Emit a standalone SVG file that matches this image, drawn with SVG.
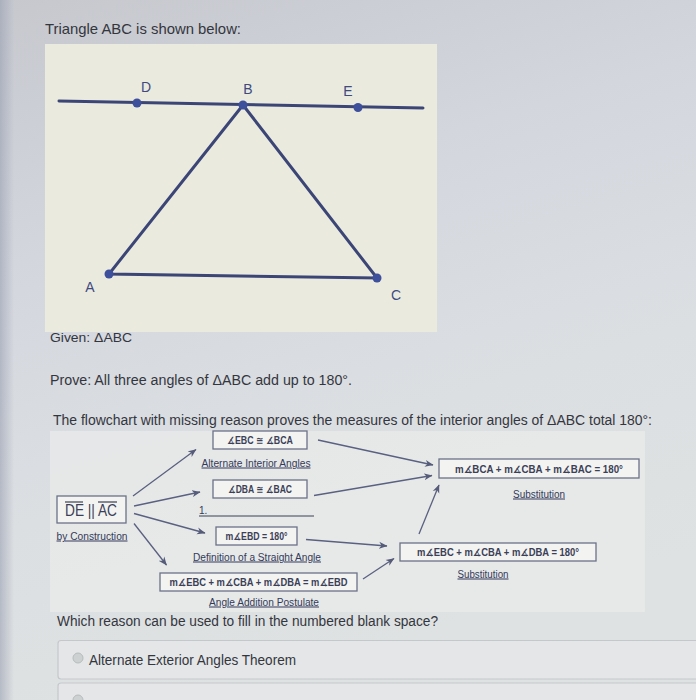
<svg xmlns="http://www.w3.org/2000/svg" width="696" height="700" viewBox="0 0 696 700">
<defs>
<linearGradient id="bg" x1="0" y1="0" x2="0.3" y2="1">
<stop offset="0" stop-color="#c6c8ce"/>
<stop offset="0.35" stop-color="#d3d6dd"/>
<stop offset="0.7" stop-color="#dcdfe2"/>
<stop offset="1" stop-color="#dfe2e2"/>
</linearGradient>
<linearGradient id="edge" x1="0" y1="0" x2="1" y2="0">
<stop offset="0" stop-color="#9aa1b3" stop-opacity="0.6"/>
<stop offset="1" stop-color="#9aa1b3" stop-opacity="0"/>
</linearGradient>
<marker id="ah" markerWidth="9" markerHeight="8" refX="8" refY="4" orient="auto" markerUnits="userSpaceOnUse">
<path d="M0,0.5 L8.5,4 L0,7.5 L2.5,4 Z" fill="#555b78"/>
</marker>
<style>
.txt{font-family:"Liberation Sans",Arial,sans-serif;fill:#34363e}
.fc{font-family:"Liberation Sans","DejaVu Sans",Arial,sans-serif;font-size:10px;font-weight:bold;fill:#3b4058;text-anchor:middle}
.lbl{font-family:"Liberation Sans","DejaVu Sans",Arial,sans-serif;font-size:10px;fill:#343a5a;text-anchor:middle;text-decoration:underline}
.box{fill:#f3f4f1;stroke:#6c7188;stroke-width:1.3}
.geo{stroke:#3b4676;stroke-width:3;fill:none;stroke-linecap:round}
.pt{fill:#3e4f9c}
.ptl{font-family:"Liberation Sans",Arial,sans-serif;font-size:14px;fill:#3e4a80;text-anchor:middle}
.arr{stroke:#5a6080;stroke-width:1.3;fill:none;marker-end:url(#ah)}
</style>
</defs>
<rect width="696" height="700" fill="url(#bg)"/>
<rect x="0" y="0" width="14" height="700" fill="url(#edge)"/>

<text class="txt" x="45" y="34" font-size="14.5" textLength="196" lengthAdjust="spacingAndGlyphs">Triangle ABC is shown below:</text>

<g id="figure">
<rect x="45" y="44" width="392" height="288" fill="#ebeadf"/>
<line class="geo" x1="59" y1="101" x2="423" y2="108"/>
<polyline class="geo" points="243,105 109,274 377,278 243,105"/>
<circle class="pt" cx="137" cy="103" r="4.5"/>
<circle class="pt" cx="243" cy="105" r="4.5"/>
<circle class="pt" cx="358" cy="107.5" r="4.5"/>
<circle class="pt" cx="109" cy="274" r="4.5"/>
<circle class="pt" cx="377" cy="278" r="4.5"/>
<text class="ptl" x="146" y="92">D</text>
<text class="ptl" x="248" y="94">B</text>
<text class="ptl" x="348" y="96">E</text>
<text class="ptl" x="90" y="292">A</text>
<text class="ptl" x="396" y="300">C</text>
</g>

<text class="txt" x="50" y="342" font-size="13" textLength="82" lengthAdjust="spacingAndGlyphs">Given: ΔABC</text>
<text class="txt" x="50" y="385" font-size="14" textLength="302" lengthAdjust="spacingAndGlyphs">Prove: All three angles of ΔABC add up to 180°.</text>
<text class="txt" x="53" y="425" font-size="14" textLength="599" lengthAdjust="spacingAndGlyphs">The flowchart with missing reason proves the measures of the interior angles of ΔABC total 180°:</text>

<rect x="50" y="431" width="595" height="181" fill="#eceeec" opacity="0.6"/>

<g id="connectors">
<line class="arr" x1="133" y1="496" x2="196" y2="449.5"/>
<line class="arr" x1="134" y1="506" x2="200" y2="492"/>
<line class="arr" x1="134" y1="513.5" x2="205" y2="533"/>
<line class="arr" x1="134" y1="523.5" x2="166.5" y2="565"/>
<line class="arr" x1="318" y1="440" x2="433" y2="465"/>
<line class="arr" x1="314" y1="495.5" x2="432" y2="475.5"/>
<line class="arr" x1="419" y1="534" x2="439" y2="485"/>
<line class="arr" x1="306" y1="539.5" x2="387" y2="546"/>
<line class="arr" x1="363" y1="579" x2="394" y2="558.5"/>
</g>

<g id="n-ebc">
<rect class="box" x="213" y="431" width="94" height="18"/>
<text class="fc" x="260" y="444" textLength="66" lengthAdjust="spacingAndGlyphs">∡EBC ≅ ∡BCA</text>
<text class="lbl" x="256" y="466.5" textLength="109" lengthAdjust="spacingAndGlyphs">Alternate Interior Angles</text>
</g>

<g id="n-dba">
<rect class="box" x="213" y="480" width="94" height="18"/>
<text class="fc" x="260" y="493" textLength="64" lengthAdjust="spacingAndGlyphs">∡DBA ≅ ∡BAC</text>
<text class="lbl" x="199" y="514" style="text-anchor:start;text-decoration:none">1.</text>
<line x1="199" y1="516" x2="314" y2="516" stroke="#3b4058" stroke-width="1"/>
</g>

<g id="n-de">
<rect class="box" x="57" y="496" width="69" height="27"/>
<text x="65" y="516" font-family="Liberation Sans,Arial,sans-serif" font-size="16" fill="#3b4058" textLength="52" lengthAdjust="spacingAndGlyphs">DE || AC</text>
<line x1="65" y1="502" x2="83" y2="502" stroke="#3b4058" stroke-width="1.2"/>
<line x1="98" y1="502" x2="117" y2="502" stroke="#3b4058" stroke-width="1.2"/>
<text class="lbl" x="92" y="539.5" textLength="71" lengthAdjust="spacingAndGlyphs">by Construction</text>
</g>

<g id="n-ebd">
<rect class="box" x="216" y="527" width="81" height="18"/>
<text class="fc" x="256.5" y="540" textLength="62" lengthAdjust="spacingAndGlyphs">m∡EBD = 180°</text>
<text class="lbl" x="257" y="560.5" textLength="128" lengthAdjust="spacingAndGlyphs">Definition of a Straight Angle</text>
</g>

<g id="n-sum-ebd">
<rect class="box" x="160" y="573" width="197" height="18"/>
<text class="fc" x="258.5" y="586" textLength="178" lengthAdjust="spacingAndGlyphs">m∡EBC + m∡CBA + m∡DBA = m∡EBD</text>
<text class="lbl" x="264" y="605.5" textLength="110" lengthAdjust="spacingAndGlyphs">Angle Addition Postulate</text>
</g>

<g id="n-bca">
<rect class="box" x="439" y="459" width="200" height="19"/>
<text class="fc" x="539" y="472.5" textLength="168" lengthAdjust="spacingAndGlyphs">m∡BCA + m∡CBA + m∡BAC = 180°</text>
<text class="lbl" x="539" y="497.5" textLength="52" lengthAdjust="spacingAndGlyphs">Substitution</text>
</g>

<g id="n-ebc180">
<rect class="box" x="400" y="543" width="196" height="18"/>
<text class="fc" x="498" y="556" textLength="162" lengthAdjust="spacingAndGlyphs">m∡EBC + m∡CBA + m∡DBA = 180°</text>
<text class="lbl" x="483" y="577.5" textLength="51" lengthAdjust="spacingAndGlyphs">Substitution</text>
</g>

<text class="txt" x="57" y="626" font-size="14" textLength="381" lengthAdjust="spacingAndGlyphs">Which reason can be used to fill in the numbered blank space?</text>

<g id="option1">
<rect x="58" y="640.5" width="650" height="38.5" rx="3" fill="#e4e6e7" stroke="#c5c8cb" stroke-width="1.2"/>
<circle cx="78" cy="658" r="5" fill="#cdd1d2" stroke="#b8bcbe" stroke-width="1"/>
<text class="txt" x="89" y="665" font-size="14" textLength="207" lengthAdjust="spacingAndGlyphs">Alternate Exterior Angles Theorem</text>
</g>
<g id="option2">
<rect x="58" y="683" width="650" height="30" rx="3" fill="#e4e6e7" stroke="#c5c8cb" stroke-width="1.2"/>
<circle cx="78" cy="700" r="5" fill="#cdd1d2" stroke="#b8bcbe" stroke-width="1"/>
</g>
</svg>
